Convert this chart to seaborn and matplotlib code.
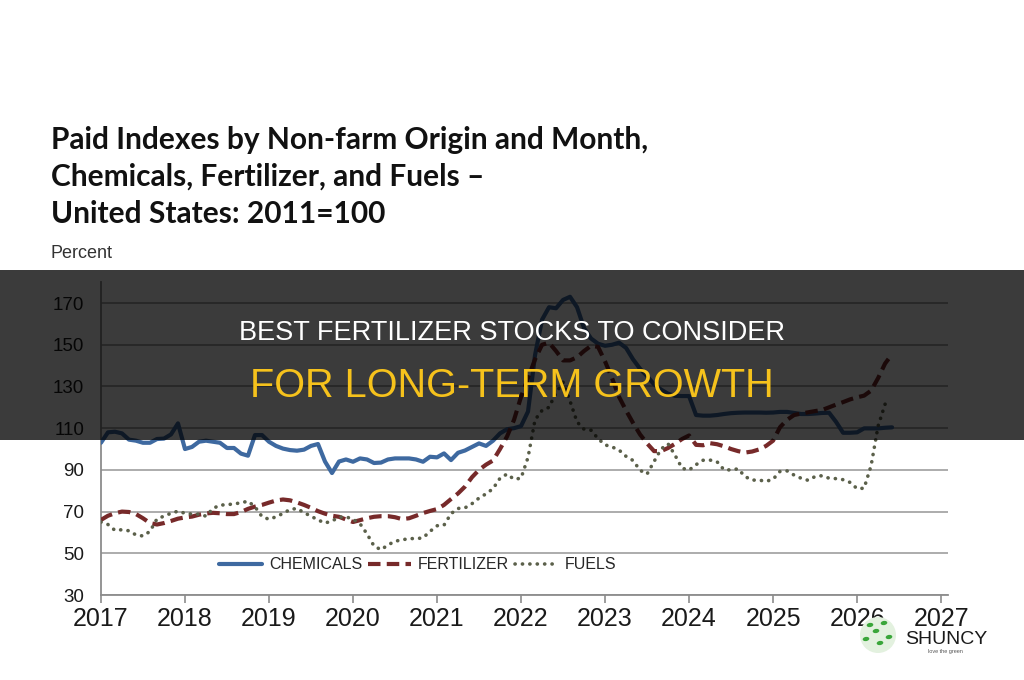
import numpy as np
import pandas as pd
import matplotlib.pyplot as plt
import seaborn as sns
from matplotlib.patches import Rectangle, Ellipse

# monthly index values, Jan 2017 onwards (2011=100)
chemicals = [103, 108, 108.3, 107.5, 104.5, 104, 103, 103, 104.8, 105, 107, 112.3,
             100, 101, 103.5, 104, 103.5, 103, 100.5, 100.5, 97.8, 96.8, 106.7, 106.7,
             103.5, 101.5, 100.2, 99.5, 99.2, 99.7, 101.5, 102.4, 94, 88.5, 94, 95,
             93.9, 95.5, 95, 93.3, 93.5, 95, 95.5, 95.5, 95.5, 95, 93.9, 96.3,
             96, 97.9, 94.7, 98.2, 99.3, 101, 102.7, 101.5, 104, 107.5, 109.5, 110,
             111, 118, 145, 162, 168, 167.5, 171.5, 173, 168, 158, 153, 150.5,
             149.5, 150, 151, 148.5, 143, 138.5, 135, 131, 128.5, 126.5, 125.5, 125.4,
             125.4, 116.3, 116, 116, 116.3, 116.8, 117.2, 117.4, 117.5, 117.5, 117.5, 117.4,
             117.5, 117.8, 117.8, 117.3, 116.8, 116.8, 117, 117.3, 117.4, 113, 107.8, 107.8,
             108, 109.9, 109.9, 109.9, 110.2, 110.4]

fertilizer = [66, 68, 69.2, 70, 69.8, 68.8, 66.8, 64.5, 63.8, 64.5, 65.5, 66.6,
              67.2, 67.6, 68.5, 69.1, 69.4, 69.2, 68.8, 68.8, 69.8, 71.3, 72.4, 73.2,
              74.3, 75.3, 75.8, 75.4, 74.4, 73.2, 71.8, 70.2, 69, 68, 67.5, 66.2,
              65, 65.9, 66.8, 67.5, 67.8, 67.8, 67.3, 66.4, 66.8, 68, 69.3, 70.3,
              71.2, 73.2, 76, 78.7, 82, 86.5, 90, 92.5, 94.5, 100, 106, 114,
              125, 134, 143, 150, 151, 147, 142.5, 142.5, 144, 147, 149.5, 149,
              142, 134, 125, 118.5, 112.5, 107, 102.7, 99, 99, 100.5, 102.5, 104.8,
              106.5, 102, 101.8, 102.8, 102.3, 101.3, 100, 99, 98.3, 98.8, 99.8, 101.5,
              104, 110.5, 114, 116.3, 117, 117.6, 118.2, 118.7, 120, 121.3, 122.5, 123.8,
              124.8, 125.6, 128, 134, 141, 145.5]

fuels = [65, 63.8, 61, 61.3, 60.8, 58.8, 58.3, 60.5, 66.5, 67.8, 69.2, 70.2,
         69.2, 68.8, 68.8, 67.8, 71.5, 73.1, 73.3, 73.7, 74.2, 75, 72.3, 67.6,
         66.3, 67.5, 69.1, 71, 71.5, 69.5, 67.8, 66, 64.5, 65.5, 67.3, 67.5,
         66.3, 64.2, 59.3, 53.5, 51.7, 54, 55.8, 56.4, 57.1, 57, 57.4, 60.5,
         63.2, 63.5, 69, 71.5, 71.8, 73.8, 76.5, 78.5, 81, 86, 88, 85.5,
         86, 96, 114, 118.5, 120, 127, 132, 123, 113, 109.5, 109, 105,
         102, 101, 99.5, 96.5, 94.5, 89.8, 88, 94, 100, 102.5, 97, 90.8,
         89.9, 92.5, 94.6, 94.7, 93.9, 90, 90, 90.5, 86.8, 85.1, 85.1, 84.5,
         85.5, 89.3, 89.5, 87.5, 86, 85, 86.8, 87.2, 86, 85.8, 85.3, 84,
         81, 81.2, 92, 111, 121.5]

series_names = ["CHEMICALS", "FERTILIZER", "FUELS"]
year_ticks = list(range(2017, 2028))
y_ticks = [30, 50, 70, 90, 110, 130, 150, 170]

frames = []
for name, vals in zip(series_names, [chemicals, fertilizer, fuels]):
    frames.append(pd.DataFrame({"year": 2017 + np.arange(len(vals)) / 12,
                                "value": vals, "series": name}))
df = pd.concat(frames, ignore_index=True)

sns.set_style("white")
plt.rcParams["font.family"] = ["Liberation Sans", "DejaVu Sans"]

fig = plt.figure(figsize=(10.24, 6.8), dpi=100)
ax = fig.add_axes([0.0986, 0.125, 0.827, 0.46])

styles = {
    "CHEMICALS": dict(color="#3e69a0", lw=3.0, linestyle="-"),
    "FERTILIZER": dict(color="#772a2a", lw=3.0, linestyle=(0, (3.0, 1.5))),
    "FUELS": dict(color="#5b604a", lw=2.6, linestyle=(0, (0.05, 2.0)),
                  dash_capstyle="round"),
}
for name in series_names:
    sub = df[df["series"] == name]
    sns.lineplot(data=sub, x="year", y="value", ax=ax, label=name,
                 zorder=3, **styles[name])

ax.set_xlim(2017, 2027.08)
ax.set_ylim(30, 180)
ax.set_xticks(year_ticks)
ax.set_yticks(y_ticks)
ax.set_xlabel("")
ax.set_ylabel("")
ax.grid(axis="y", color="#a6a6a6", lw=1.3)
ax.grid(axis="x", visible=False)
for s in ["top", "right"]:
    ax.spines[s].set_visible(False)
for s in ["left", "bottom"]:
    ax.spines[s].set_color("#8c8c8c")
    ax.spines[s].set_linewidth(1.3)
ax.tick_params(axis="x", length=6, width=1.2, color="#8c8c8c",
               labelsize=18, labelcolor="#1a1a1a", pad=3, direction="out")
ax.tick_params(axis="y", length=0, labelsize=13.5, labelcolor="#1a1a1a", pad=12)
ax.xaxis.set_ticks_position("bottom")

ax.legend(loc="center", bbox_to_anchor=(0.374, 0.096), ncol=3, frameon=False,
          fontsize=11.5, handlelength=2.7, columnspacing=0.35, handletextpad=0.45)

# title block
title_lines = ["Paid Indexes by Non-farm Origin and Month,",
               "Chemicals, Fertilizer, and Fuels \u2013",
               "United States: 2011=100"]
for i, line in enumerate(title_lines):
    fig.text(51 / 1024, 1 - (140 + 37 * i) / 680, line, fontsize=21.5,
             fontweight="bold", family=["Lato", "DejaVu Sans"],
             color="#111111", va="center", ha="left")
fig.text(51 / 1024, 1 - 253 / 680, "Percent", fontsize=13, color="#333333",
         va="center", ha="left")

# dark banner
fig.add_artist(Rectangle((0, 1 - 440 / 680), 1, 170 / 680,
                         transform=fig.transFigure, color="black",
                         alpha=0.77, zorder=10, lw=0))
fig.text(0.5, 1 - 333 / 680, "BEST FERTILIZER STOCKS TO CONSIDER",
         fontsize=19.5, color="white", ha="center", va="center", zorder=11)
fig.text(0.5, 1 - 386 / 680, "FOR LONG-TERM GROWTH",
         fontsize=28.5, color="#f6c21c", ha="center", va="center", zorder=11)

# watermark logo
fig.add_artist(Ellipse((878 / 1024, 1 - 635 / 680), 36 / 1024, 36 / 680,
                       transform=fig.transFigure, color="#e3f1df", zorder=11, lw=0))
leaf_pos = [(870, 625), (884, 623), (866, 639), (889, 637), (876, 631), (880, 643)]
for lx, ly in leaf_pos:
    fig.add_artist(Ellipse((lx / 1024, 1 - ly / 680), 7 / 1024, 4 / 680,
                           angle=40, transform=fig.transFigure,
                           color="#3aa63a", zorder=12, lw=0))
fig.text(905 / 1024, 1 - 640 / 680, "SHUNCY", fontsize=14, color="#1a1a1a",
         ha="left", va="center", zorder=12)
fig.text(945 / 1024, 1 - 651 / 680, "love the green", fontsize=4, color="#555555",
         ha="center", va="center", zorder=12)

fig.savefig("out.png", dpi=100)
